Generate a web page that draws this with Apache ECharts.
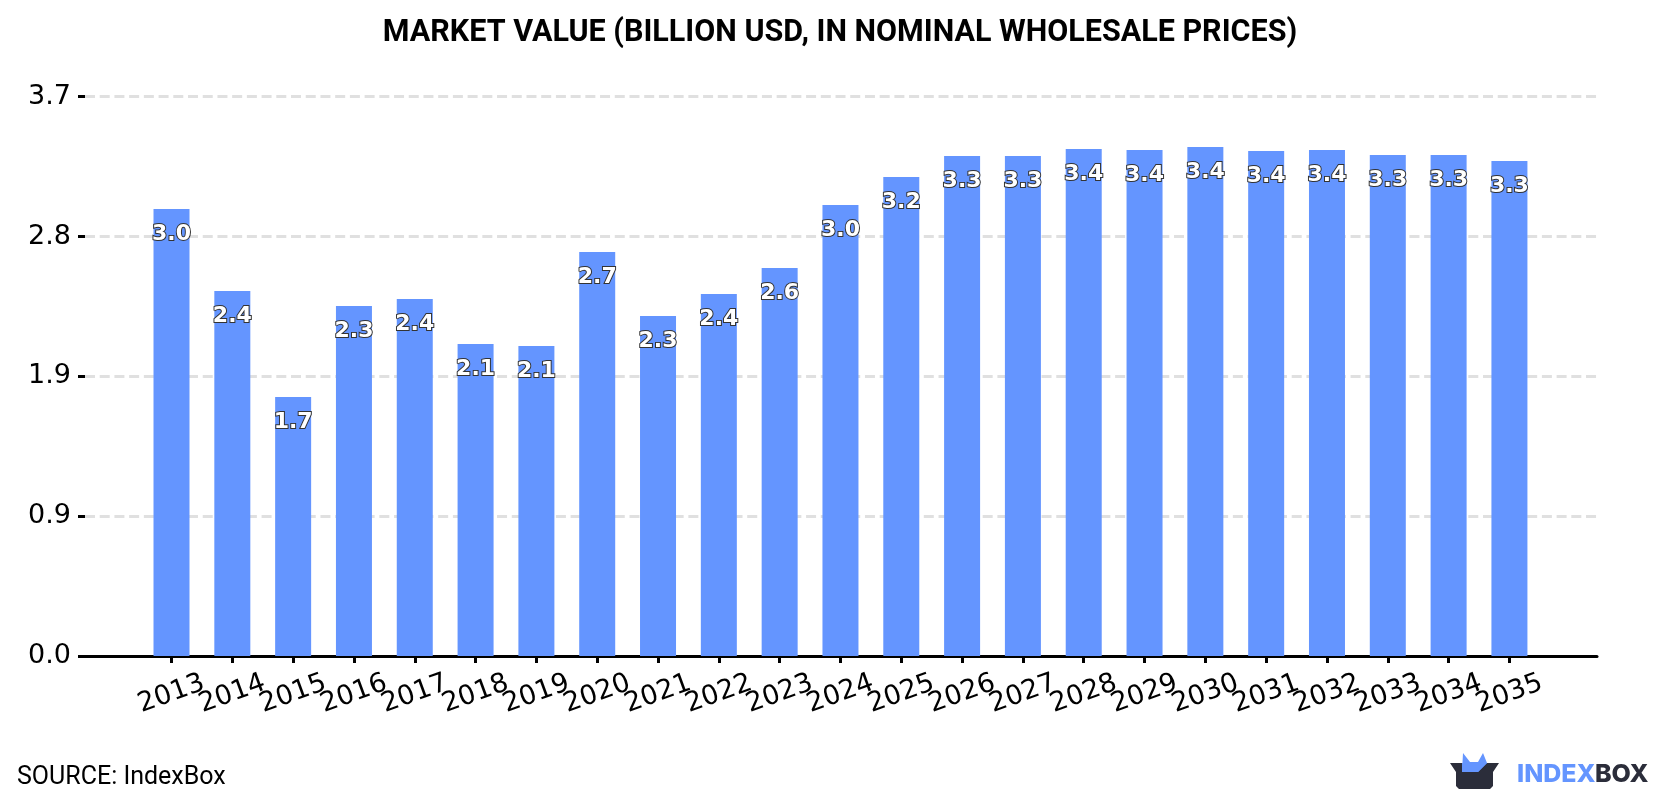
<!DOCTYPE html>
<html>
<head>
<meta charset="utf-8">
<title>Market Value</title>
<style>html,body{margin:0;padding:0;background:#fff}#chart{width:1680px;height:800px}</style>
<script src="https://cdn.jsdelivr.net/npm/echarts@6/dist/echarts.min.js"></script>
</head>
<body>
<div id="chart"></div>
<script>
const years = [2013,2014,2015,2016,2017,2018,2019,2020,2021,2022,2023,2024,2025,2026,2027,2028,2029,2030,2031,2032,2033,2034,2035];
const marketValue = [2.973,2.428,1.723,2.328,2.374,2.075,2.062,2.687,2.261,2.408,2.581,3.000,3.186,3.326,3.326,3.372,3.365,3.385,3.359,3.365,3.332,3.332,3.292];
const titleText = 'MARKET VALUE (BILLION USD, IN NOMINAL WHOLESALE PRICES)';
const sourceText = 'SOURCE: IndexBox';
const yInterval = 0.93;
const yMax = 3.72;
// Blank end slots keep the axis from dropping the neighbours of its first and last labels
const labelSlots = [2012, ...years, 2036];

const chart = echarts.init(document.getElementById('chart'), null, {renderer: 'canvas'});
chart.setOption({
  animation: false,
  backgroundColor: '#ffffff',
  title: [
    {text: titleText, left: 840, top: 18, padding: 0, textAlign: 'center',
     textStyle: {fontFamily: 'Roboto', fontWeight: 'bold', fontSize: 30.5, color: '#000'}},
    {text: sourceText, left: 17, top: 765, padding: 0,
     textStyle: {fontFamily: 'Roboto', fontWeight: 'normal', fontSize: 25, color: '#000'}}
  ],
  grid: {left: 85, right: 83, top: 96.7, bottom: 144, containLabel: false},
  xAxis: {
    type: 'value',
    min: 2011.5775,
    max: 2036.44,
    splitLine: {show: false},
    axisLine: {show: true, onZero: false, lineStyle: {color: '#000', width: 3}},
    axisTick: {show: true, customValues: years, length: 7, lineStyle: {color: '#000', width: 3}},
    axisLabel: {
      show: true, customValues: labelSlots, rotate: 20, margin: 38, hideOverlap: false,
      align: 'center', verticalAlign: 'middle',
      fontFamily: 'DejaVu Sans', fontSize: 27, color: '#000',
      formatter: v => years.includes(v) ? String(v) : ''
    }
  },
  yAxis: {
    type: 'value',
    min: 0,
    max: yMax,
    interval: yInterval,
    axisLine: {show: false},
    axisTick: {show: true, length: 7, lineStyle: {color: '#000', width: 3}},
    axisLabel: {
      margin: 14, padding: [2, 0, 0, 0], fontFamily: 'DejaVu Sans', fontSize: 27, color: '#000',
      formatter: v => v.toFixed(1)
    },
    splitLine: {show: true, lineStyle: {color: '#e0e0e0', width: 3, type: [10, 4.716]}}
  },
  series: [{
    type: 'bar',
    barWidth: 36,
    data: years.map((y, i) => [y, marketValue[i]]),
    itemStyle: {color: '#6495ff'},
    label: {
      show: true,
      position: 'insideTop',
      distance: 14,
      fontFamily: 'DejaVu Sans', fontWeight: 'bold', fontSize: 22,
      color: '#fff', textBorderColor: '#333', textBorderWidth: 2,
      formatter: p => p.value[1].toFixed(1)
    }
  }],
  graphic: [
    // Brand mark: open box with a crown rising out of it
    {type: 'polygon', z: 10, shape: {points: [[1462,772],[1463,753],[1470,762],[1478,762],[1483,753],[1487,763],[1478,772]]}, style: {fill: '#6495ff'}},
    {type: 'polygon', z: 9, shape: {points: [[1450,763],[1499,763],[1493,772],[1493,786],[1490,789],[1459,789],[1456,786],[1456,772]]}, style: {fill: '#2b2d3a'}},
    {type: 'polygon', z: 11, shape: {points: [[1462,763],[1487,763],[1478,772],[1462,772]]}, style: {fill: '#6495ff'}},
    {type: 'text', z: 10, x: 1517, y: 774, style: {text: 'INDEX', fill: '#6495ff', font: '800 25px Inter', textVerticalAlign: 'middle'}},
    {type: 'text', z: 10, x: 1595, y: 774, style: {text: 'BOX', fill: '#2b2d3a', font: '800 25px Inter', textVerticalAlign: 'middle'}}
  ]
});
</script>
</body>
</html>
